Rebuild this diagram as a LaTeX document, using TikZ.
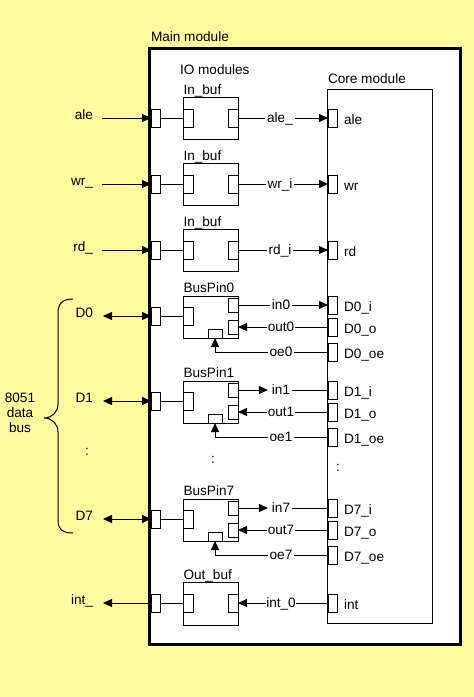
\documentclass[tikz,border=0pt]{standalone}
\usepackage{fontspec}
\setmainfont{Liberation Sans}
\usetikzlibrary{arrows.meta,calc}
\definecolor{bgy}{RGB}{255,250,160}
\begin{document}
\begin{tikzpicture}[x=1pt,y=-1pt,
  every node/.style={inner sep=0pt, outer sep=0pt},
  lbl/.style={font=\fontsize{13.6}{15}\selectfont},
  onl/.style={lbl, inner xsep=2pt},
  blk/.style={draw, line width=1pt, minimum width=55pt, minimum height=42pt},
  mprt/.style={draw, fill=white, line width=1pt, minimum width=9pt, minimum height=18pt},
  prt/.style={draw, fill=white, line width=1pt, minimum width=10pt, minimum height=18pt},
  sprt/.style={draw, fill=white, line width=1pt, minimum width=10pt, minimum height=14pt},
  bprt/.style={draw, fill=white, line width=1pt, minimum width=14pt, minimum height=9pt},
  wire/.style={line width=1pt},
  arr/.style={wire, -{Triangle[length=9pt,width=8pt]}},
  darr/.style={wire, {Triangle[length=9pt,width=8pt]}-{Triangle[length=9pt,width=8pt]}},
]
\useasboundingbox (0,0) rectangle (474,697);
\fill[bgy] (0,0) rectangle (474,697);

% main module
\node[draw, line width=3pt, fill=white, minimum width=311pt, minimum height=596pt, anchor=north west] (main) at (149,48) {};
\node[lbl, anchor=base west] (mainlbl) at (151,41) {Main module};
\node[lbl, anchor=base west] (iolbl) at (180,74) {IO modules};
\node[lbl, anchor=base west] (corelbl) at (328,83) {Core module};
\node[draw, line width=1pt, minimum width=105pt, minimum height=534pt, anchor=north west] (core) at (327,89) {};

% input buffers
\foreach \n/\y/\ext/\mid/\cn in {1/118/ale/ale\_/ale, 2/184/wr\_/wr\_i/wr, 3/250/rd\_/rd\_i/rd}{
  \node[lbl, anchor=base east] (el\n) at (93,\y+1) {\ext};
  \coordinate (es\n) at (102,\y);
  \node[mprt] (mp\n) at (155.5,\y) {};
  \node[blk] (ib\n) at (210.5,\y) {};
  \node[lbl, anchor=base west] (ibt\n) at (183.5,\y-24) {In\_buf};
  \node[prt, anchor=west] (ibl\n) at (ib\n.west) {};
  \node[prt, anchor=east] (ibr\n) at (ib\n.east) {};
  \node[mprt] (cp\n) at (332.5,\y) {};
  \node[lbl, anchor=base west] (cl\n) at (344,\y+6) {\cn};
  \node[onl, anchor=base] (ml\n) at (280,\y+4) {\mid};
  \draw[arr] (es\n) -- (mp\n.west);
  \draw[wire] (mp\n.east) -- (ibl\n.west);
  \draw[wire] (ibr\n.east) -- (ibr\n.east -| ml\n.west);
  \draw[arr] (ml\n.east |- cp\n.west) -- (cp\n.west);
}

% bus pins
\foreach \i/\T in {0/296, 1/381, 7/499}{
  \node[lbl, anchor=base east] (dl\i) at (93,\T+21) {D\i};
  \coordinate (ds\i) at (103,\T+20);
  \node[mprt] (dp\i) at (155.5,\T+20) {};
  \node[blk] (bp\i) at (210.5,\T+21) {};
  \node[lbl, anchor=base west] (bpt\i) at (183.5,\T-4) {BusPin\i};
  \node[prt] (bpl\i) at (188,\T+20) {};
  \node[sprt] (bpi\i) at (233,\T+9) {};
  \node[sprt] (bpo\i) at (233,\T+31) {};
  \node[bprt] (bpe\i) at (215,\T+37.5) {};
  \node[mprt] (ci\i) at (332.5,\T+9) {};
  \node[mprt] (co\i) at (332.5,\T+31) {};
  \node[mprt] (ce\i) at (332.5,\T+56) {};
  \node[lbl, anchor=base west] (cil\i) at (344,\T+15) {D\i\_i};
  \node[lbl, anchor=base west] (col\i) at (344,\T+37) {D\i\_o};
  \node[lbl, anchor=base west] (cel\i) at (344,\T+62) {D\i\_oe};
  \node[onl, anchor=base] (mi\i) at (281,\T+13) {in\i};
  \node[onl, inner xsep=0.5pt, anchor=base] (mo\i) at (281,\T+35) {out\i};
  \node[onl, anchor=base] (me\i) at (281,\T+60) {oe\i};
  \draw[darr] (ds\i) -- (dp\i.west);
  \draw[wire] (dp\i.east) -- (bpl\i.west);
  \draw[wire] (co\i.west) -- (co\i.west -| mo\i.east);
  \draw[arr] (mo\i.west |- bpo\i.east) -- (bpo\i.east);
  \draw[wire] (ce\i.west) -- (ce\i.west -| me\i.east);
  \draw[arr] (me\i.west |- ce\i.west) -| (bpe\i.south);
}
% in0: arrow at the core side
\draw[wire] (bpi0.east) -- (bpi0.east -| mi0.west);
\draw[arr] (mi0.east |- ci0.west) -- (ci0.west);
% in1, in7: arrow at the label
\foreach \i in {1,7}{
  \coordinate (at\i) at ($(mi\i.west |- bpi\i.east)+(-2,0)$);
  \draw[arr] (bpi\i.east) -- (at\i);
  \draw[wire] (mi\i.east |- ci\i.west) -- (ci\i.west);
}

% output buffer
\node[lbl, anchor=base east] (intl) at (93,604) {int\_};
\coordinate (intend) at (103,603);
\node[mprt] (mp4) at (155.5,603) {};
\node[blk, minimum height=43pt] (ob) at (210.5,603.5) {};
\node[lbl, anchor=base west] (obt) at (183.5,579) {Out\_buf};
\node[prt] (obl) at (188,603) {};
\node[prt] (obr) at (233,603) {};
\node[mprt] (cpint) at (332.5,603) {};
\node[lbl, anchor=base west] (clint) at (344,609) {int};
\node[onl, inner xsep=0.5pt, anchor=base] (mint) at (281,607) {int\_0};
\draw[arr] (mp4.west) -- (intend);
\draw[wire] (mp4.east) -- (obl.west);
\draw[wire] (cpint.west) -- (cpint.west -| mint.east);
\draw[arr] (mint.west |- obr.east) -- (obr.east);

% dots
\node[lbl] (dotl) at (87,452) {:};
\node[lbl] (dotm) at (213,460) {:};
\node[lbl] (dotc) at (338,468) {:};

% brace and bus label
\draw[wire] (73,299) .. controls (62,299) and (58,304) .. (58,313) -- (58,404)
  .. controls (58,412) and (52,418) .. (44,418)
  .. controls (52,418) and (58,424) .. (58,432) -- (58,520)
  .. controls (58,529) and (62,533) .. (73,533);
\node[lbl, align=center] (bus) at (20,413) {8051\\data\\bus};
\end{tikzpicture}
\end{document}
